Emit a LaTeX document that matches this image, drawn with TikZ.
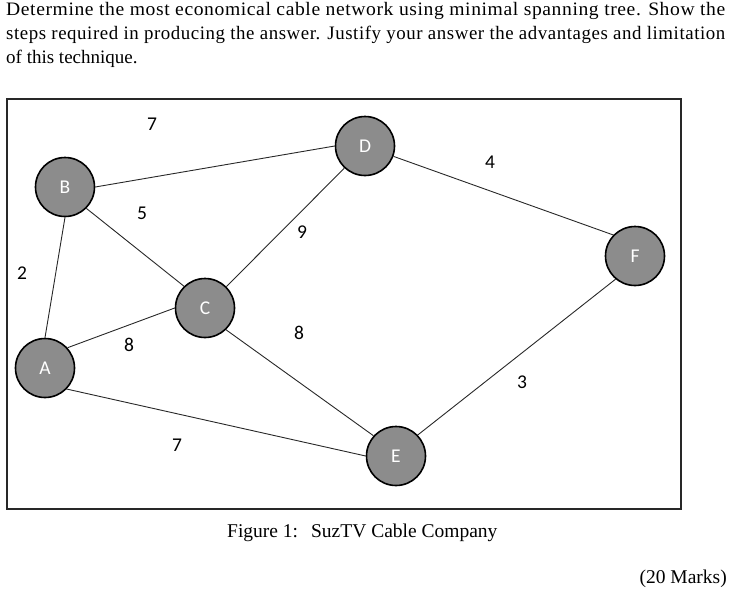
\documentclass[tikz,border=0pt]{standalone}
\usepackage{fontspec}
\setmainfont{Liberation Serif}
\newfontfamily\spaced[LetterSpace=3]{Liberation Serif}
\newfontfamily\calib{Carlito}
\definecolor{nodegray}{RGB}{140,140,140}
\definecolor{linegray}{RGB}{40,40,40}
\begin{document}
\begin{tikzpicture}[x=1pt,y=-1pt,
  vtx/.style={circle,draw=black,line width=1.6pt,fill=nodegray,minimum size=59pt,inner sep=0pt,text=white,font=\calib\fontsize{19.5}{22}\selectfont},
  edge/.style={draw=linegray,line width=0.9pt},
  wlabel/.style={font=\calib\fontsize{19.5}{22}\selectfont,text=black,inner sep=0pt},
  plain/.style={inner sep=0pt,font=\fontsize{19.5}{22}\selectfont},
  hline/.style={inner sep=0pt,anchor=base west,font=\fontsize{19}{24}\selectfont}]
\useasboundingbox (0,0) rectangle (731,592);
\node[hline] (q1) at (6,15.5) {\spaced\resizebox{719pt}{\height}{Determine the most economical cable network using minimal spanning tree. Show the}};
\node[hline] (q2) at (6,39.5) {\spaced\resizebox{719pt}{\height}{steps required in producing the answer. Justify your answer the advantages and limitation}};
\node[hline] (q3) at (6,63.5) {of this technique.};
\draw[draw=linegray,line width=1.4pt] (7,99) rectangle (681,509);
\node[vtx] (B) at (65,187) {B};
\node[vtx] (D) at (365,146) {D};
\node[vtx] (F) at (635,256) {F};
\node[vtx] (C) at (205,308) {C};
\node[vtx] (A) at (45,368) {A};
\node[vtx] (E) at (396,456) {E};
\draw[edge] (B.east) -- (D.west);
\draw[edge] (B.-45) -- (C.134);
\draw[edge] (B.south) -- (A.north);
\draw[edge] (A.42) -- (C.west);
\draw[edge] (A.-44) -- (E.west);
\draw[edge] (C.45) -- (D.-133);
\draw[edge] (C.-46) -- (E.138);
\draw[edge] (D.-20) -- (F.136);
\draw[edge] (E.44) -- (F.-130);
\node[wlabel] (l1) at (152,124) {7};
\node[wlabel] (l2) at (142,213) {5};
\node[wlabel] (l3) at (22,273) {2};
\node[wlabel] (l4) at (129,345) {8};
\node[wlabel] (l5) at (177,445) {7};
\node[wlabel] (l6) at (302,232) {9};
\node[wlabel] (l7) at (299,333) {8};
\node[wlabel] (l8) at (490,162) {4};
\node[wlabel] (l9) at (522,382) {3};
\node[plain,anchor=base west] (cap) at (227,537) {Figure 1:\hspace{13pt}SuzTV Cable Company};
\node[plain,anchor=base east] (marks) at (727,583) {(20 Marks)};
\end{tikzpicture}
\end{document}
